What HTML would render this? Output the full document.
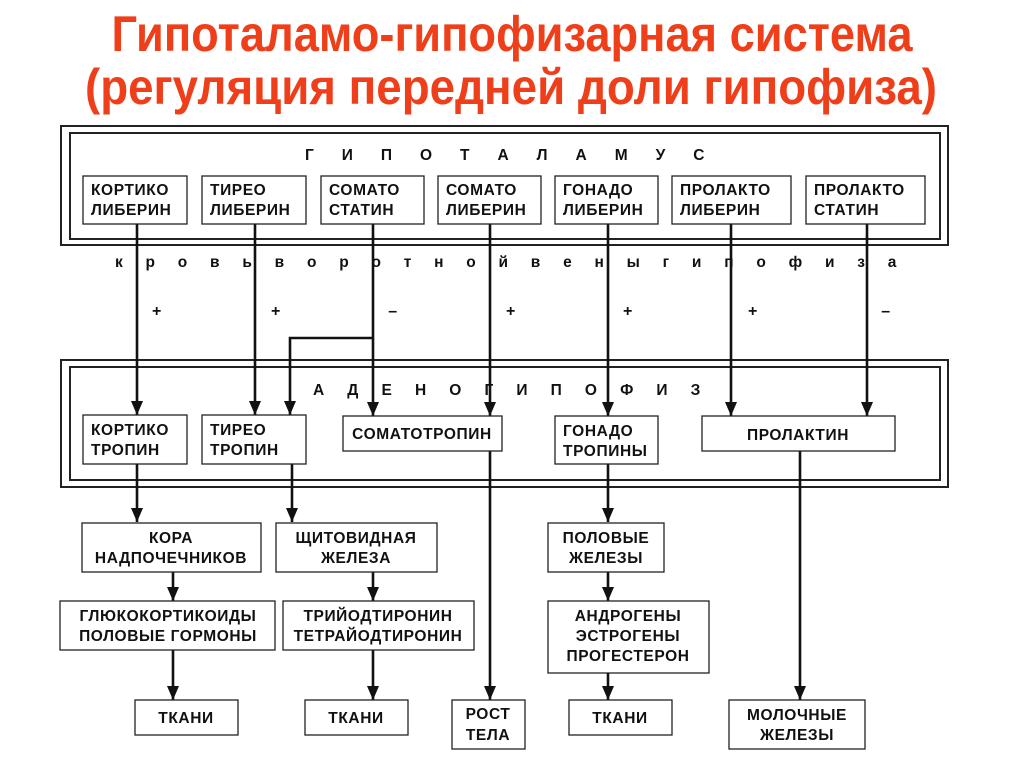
<!DOCTYPE html>
<html><head><meta charset="utf-8"><style>
html,body{margin:0;padding:0;background:#fff;width:1024px;height:767px;overflow:hidden}
svg{display:block}
.t{font-family:"Liberation Sans",sans-serif;font-weight:bold;font-size:15.5px;letter-spacing:0.6px;fill:#111;text-anchor:middle}
.s{font-family:"Liberation Sans",sans-serif;font-weight:bold;font-size:15.5px;letter-spacing:0.6px;fill:#111}
.b{fill:#fff;stroke:#222;stroke-width:1.3}
.l{stroke:#111;stroke-width:2.6;fill:none}
.f{fill:none;stroke:#222;stroke-width:2}
</style></head><body>
<svg width="1024" height="767" viewBox="0 0 1024 767" xmlns="http://www.w3.org/2000/svg">
<defs>
<marker id="m" markerWidth="12" markerHeight="14" refX="6" refY="14" orient="0" markerUnits="userSpaceOnUse"><path d="M0,0 L12,0 L6,14 Z" fill="#111"/></marker></defs>
<text x="512" y="51" text-anchor="middle" textLength="801" lengthAdjust="spacingAndGlyphs" style="font-family:'Liberation Sans',sans-serif;font-weight:bold;font-size:50px;fill:#ef3f1a">Гипоталамо-гипофизарная система</text>
<text x="511" y="104" text-anchor="middle" textLength="852" lengthAdjust="spacingAndGlyphs" style="font-family:'Liberation Sans',sans-serif;font-weight:bold;font-size:50px;fill:#ef3f1a">(регуляция передней доли гипофиза)</text>

<rect class="f" x="61" y="126" width="887" height="119"/>
<rect class="f" x="70" y="133" width="870" height="106"/>
<text class="s" x="305" y="160" textLength="400" lengthAdjust="spacing">Г И П О Т А Л А М У С</text>

<rect class="f" x="61" y="360" width="887" height="127"/>
<rect class="f" x="70" y="367" width="870" height="113"/>
<text class="s" x="313" y="395" textLength="388" lengthAdjust="spacing">А Д Е Н О Г И П О Ф И З</text>

<text class="s" x="115" y="267" textLength="782" lengthAdjust="spacing">к р о в ь   в о р о т н о й   в е н ы   г и п о ф и з а</text>
<g class="t" style="font-size:16px">
<text x="157" y="316">+</text><text x="276" y="316">+</text><text x="393" y="316">–</text><text x="511" y="316">+</text><text x="628" y="316">+</text><text x="753" y="316">+</text><text x="886" y="316">–</text></g>

<g class="l" marker-end="url(#m)">
<path d="M137 224 V415"/><path d="M255 224 V415"/><path d="M373 224 V416"/><path d="M373 338 H290 V415"/>
<path d="M490 224 V416"/><path d="M608 224 V416"/><path d="M731 224 V416"/><path d="M867 224 V416"/>
<path d="M137 464 V522"/><path d="M292 464 V522"/><path d="M490 451 V700"/><path d="M608 464 V522"/><path d="M800 451 V700"/>
<path d="M173 572 V601"/><path d="M373 572 V601"/><path d="M608 572 V601"/>
<path d="M173 650 V700"/><path d="M373 650 V700"/><path d="M608 673 V700"/>
</g>

<rect class="b" x="83" y="176" width="104" height="48"/><text class="s" x="91" y="195">КОРТИКО</text><text class="s" x="91" y="215">ЛИБЕРИН</text>
<rect class="b" x="202" y="176" width="104" height="48"/><text class="s" x="210" y="195">ТИРЕО</text><text class="s" x="210" y="215">ЛИБЕРИН</text>
<rect class="b" x="321" y="176" width="103" height="48"/><text class="s" x="329" y="195">СОМАТО</text><text class="s" x="329" y="215">СТАТИН</text>
<rect class="b" x="438" y="176" width="103" height="48"/><text class="s" x="446" y="195">СОМАТО</text><text class="s" x="446" y="215">ЛИБЕРИН</text>
<rect class="b" x="555" y="176" width="103" height="48"/><text class="s" x="563" y="195">ГОНАДО</text><text class="s" x="563" y="215">ЛИБЕРИН</text>
<rect class="b" x="672" y="176" width="119" height="48"/><text class="s" x="680" y="195">ПРОЛАКТО</text><text class="s" x="680" y="215">ЛИБЕРИН</text>
<rect class="b" x="806" y="176" width="119" height="48"/><text class="s" x="814" y="195">ПРОЛАКТО</text><text class="s" x="814" y="215">СТАТИН</text>

<rect class="b" x="83" y="415" width="104" height="49"/><text class="s" x="91" y="435">КОРТИКО</text><text class="s" x="91" y="455">ТРОПИН</text>
<rect class="b" x="202" y="415" width="104" height="49"/><text class="s" x="210" y="435">ТИРЕО</text><text class="s" x="210" y="455">ТРОПИН</text>
<rect class="b" x="343" y="416" width="159" height="35"/><text class="t" x="422" y="439">СОМАТОТРОПИН</text>
<rect class="b" x="555" y="416" width="103" height="48"/><text class="s" x="563" y="436">ГОНАДО</text><text class="s" x="563" y="456">ТРОПИНЫ</text>
<rect class="b" x="702" y="416" width="193" height="35"/><text class="t" x="798" y="440">ПРОЛАКТИН</text>

<rect class="b" x="82" y="523" width="179" height="49"/><text class="t" x="171" y="543">КОРА</text><text class="t" x="171" y="563">НАДПОЧЕЧНИКОВ</text>
<rect class="b" x="276" y="523" width="161" height="49"/><text class="t" x="356" y="543">ЩИТОВИДНАЯ</text><text class="t" x="356" y="563">ЖЕЛЕЗА</text>
<rect class="b" x="548" y="523" width="116" height="49"/><text class="t" x="606" y="543">ПОЛОВЫЕ</text><text class="t" x="606" y="563">ЖЕЛЕЗЫ</text>
<rect class="b" x="60" y="601" width="215" height="49"/><text class="t" x="168" y="621">ГЛЮКОКОРТИКОИДЫ</text><text class="t" x="168" y="641">ПОЛОВЫЕ ГОРМОНЫ</text>
<rect class="b" x="283" y="601" width="191" height="49"/><text class="t" x="378" y="621">ТРИЙОДТИРОНИН</text><text class="t" x="378" y="641">ТЕТРАЙОДТИРОНИН</text>
<rect class="b" x="548" y="601" width="161" height="72"/><text class="t" x="628" y="621">АНДРОГЕНЫ</text><text class="t" x="628" y="641">ЭСТРОГЕНЫ</text><text class="t" x="628" y="661">ПРОГЕСТЕРОН</text>
<rect class="b" x="135" y="700" width="103" height="35"/><text class="t" x="186" y="723">ТКАНИ</text>
<rect class="b" x="305" y="700" width="103" height="35"/><text class="t" x="356" y="723">ТКАНИ</text>
<rect class="b" x="452" y="700" width="73" height="49"/><text class="t" x="488" y="719">РОСТ</text><text class="t" x="488" y="740">ТЕЛА</text>
<rect class="b" x="569" y="700" width="103" height="35"/><text class="t" x="620" y="723">ТКАНИ</text>
<rect class="b" x="729" y="700" width="136" height="49"/><text class="t" x="797" y="720">МОЛОЧНЫЕ</text><text class="t" x="797" y="740">ЖЕЛЕЗЫ</text>
</svg>
</body></html>
